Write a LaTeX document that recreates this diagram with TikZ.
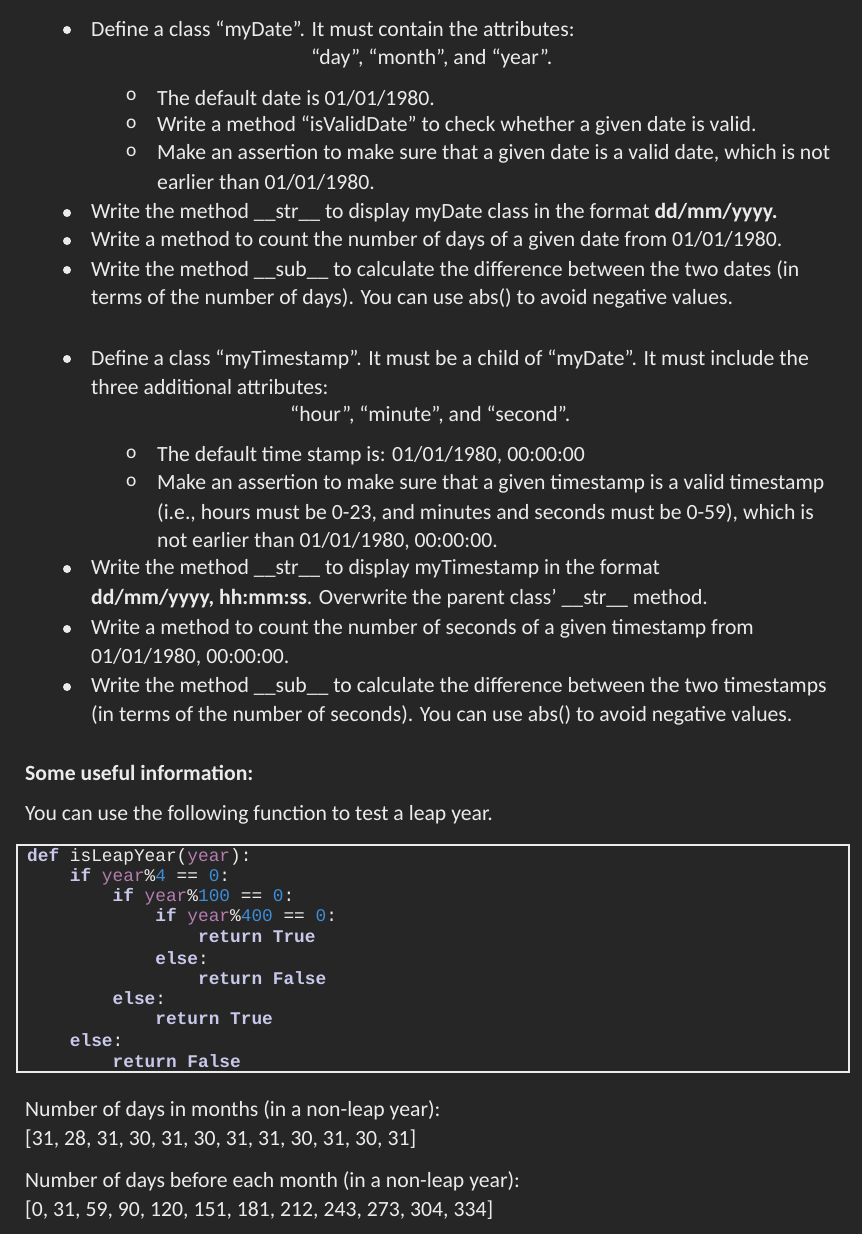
\documentclass[tikz,border=0pt]{standalone}
\usepackage{fontspec}
\setmainfont{Carlito}
\setmonofont{Liberation Mono}
\definecolor{bg}{RGB}{38,38,38}
\definecolor{fg}{RGB}{235,235,235}
\definecolor{kw}{RGB}{200,200,235}
\definecolor{vr}{RGB}{180,125,175}
\definecolor{nm}{RGB}{60,140,215}
\begin{document}
\begin{tikzpicture}[x=1pt,y=-1pt,
  tx/.style={anchor=west,inner sep=0pt,text=fg,font=\fontsize{21.7}{25}\selectfont},
  cd/.style={anchor=west,inner sep=0pt,text=kw,font=\ttfamily\fontsize{17.8}{20}\selectfont},
  dot/.style={circle,fill=fg,inner sep=0pt,minimum size=8pt},
  oo/.style={anchor=west,inner sep=0pt,text=fg,font=\fontsize{19.5}{23}\selectfont}]
\fill[bg] (0,0) rectangle (862,1234);
\useasboundingbox (0,0) rectangle (862,1234);
\newcommand\kw[1]{\textbf{#1}}
\newcommand\vy{\textcolor{vr}{year}}
\newcommand\nn[1]{\textcolor{nm}{#1}}
% bullets
\foreach \y/\n in {30/b1,213/b2,241/b3,270/b4,359/b5,569/b6,629/b7,687/b8}
  \node[dot] (\n) at (67,\y) {};
\foreach \y/\n in {98/o1,126/o2,154/o3,456/o4,484/o5}
  \node[oo] (\n) at (126,\y-2) {o};
\node[tx] (t1) at (91,30) {Define a class “myDate”. It must contain the attributes:};
\node[tx] (t2) at (311,58) {“day”, “month”, and “year”.};
\node[tx] (t3) at (157,98) {The default date is 01/01/1980.};
\node[tx] (t4) at (157,126) {Write a method “isValidDate” to check whether a given date is valid.};
\node[tx] (t5) at (157,154) {Make an assertion to make sure that a given date is a valid date, which is not};
\node[tx] (t6) at (157,182) {earlier than 01/01/1980.};
\node[tx] (t7) at (91,213) {Write the method \_\_str\_\_ to display myDate class in the format \textbf{dd/mm/yyyy.}};
\node[tx] (t8) at (91,241) {Write a method to count the number of days of a given date from 01/01/1980.};
\node[tx] (t9) at (91,270) {Write the method \_\_sub\_\_ to calculate the difference between the two dates (in};
\node[tx] (t10) at (91,298) {terms of the number of days). You can use abs() to avoid negative values.};
\node[tx] (t11) at (91,359) {Define a class “myTimestamp”. It must be a child of “myDate”. It must include the};
\node[tx] (t12) at (91,387) {three additional attributes:};
\node[tx] (t13) at (290,415) {“hour”, “minute”, and “second”.};
\node[tx] (t14) at (157,456) {The default time stamp is: 01/01/1980, 00:00:00};
\node[tx] (t15) at (157,484) {Make an assertion to make sure that a given timestamp is a valid timestamp};
\node[tx] (t16) at (157,513) {(i.e., hours must be 0-23, and minutes and seconds must be 0-59), which is};
\node[tx] (t17) at (157,541) {not earlier than 01/01/1980, 00:00:00.};
\node[tx] (t18) at (91,569) {Write the method \_\_str\_\_ to display myTimestamp in the format};
\node[tx] (t19) at (91,599) {\textbf{dd/mm/yyyy, hh:mm:ss}. Overwrite the parent class’ \_\_str\_\_ method.};
\node[tx] (t20) at (91,629) {Write a method to count the number of seconds of a given timestamp from};
\node[tx] (t21) at (91,657) {01/01/1980, 00:00:00.};
\node[tx] (t22) at (91,687) {Write the method \_\_sub\_\_ to calculate the difference between the two timestamps};
\node[tx] (t23) at (91,715) {(in terms of the number of seconds). You can use abs() to avoid negative values.};
\node[tx] (t24) at (25,773) {\textbf{Some useful information:}};
\node[tx] (t25) at (25,815) {You can use the following function to test a leap year.};
% code box
\draw[fg,line width=1.5pt] (17,845) rectangle (849,1072);
\node[cd] (c1) at (27,857) {\kw{def} \textcolor{fg}{isLeapYear(}\vy\textcolor{fg}{):}};
\node[cd] (c2) at (27,877) {\phantom{xxxx}\kw{if} \vy\textcolor{fg}{\%}\nn{4} \textcolor{fg}{==} \nn{0}\textcolor{fg}{:}};
\node[cd] (c3) at (27,897) {\phantom{xxxxxxxx}\kw{if} \vy\textcolor{fg}{\%}\nn{100} \textcolor{fg}{==} \nn{0}\textcolor{fg}{:}};
\node[cd] (c4) at (27,917) {\phantom{xxxxxxxxxxxx}\kw{if} \vy\textcolor{fg}{\%}\nn{400} \textcolor{fg}{==} \nn{0}\textcolor{fg}{:}};
\node[cd] (c5) at (27,937) {\phantom{xxxxxxxxxxxxxxxx}\kw{return True}};
\node[cd] (c6) at (27,958) {\phantom{xxxxxxxxxxxx}\kw{else}\textcolor{fg}{:}};
\node[cd] (c7) at (27,978) {\phantom{xxxxxxxxxxxxxxxx}\kw{return False}};
\node[cd] (c8) at (27,998) {\phantom{xxxxxxxx}\kw{else}\textcolor{fg}{:}};
\node[cd] (c9) at (27,1019) {\phantom{xxxxxxxxxxxx}\kw{return True}};
\node[cd] (c10) at (27,1040) {\phantom{xxxx}\kw{else}\textcolor{fg}{:}};
\node[cd] (c11) at (27,1061) {\phantom{xxxxxxxx}\kw{return False}};
\node[tx] (t26) at (25,1110) {Number of days in months (in a non-leap year):};
\node[tx] (t27) at (25,1139) {[31, 28, 31, 30, 31, 30, 31, 31, 30, 31, 30, 31]};
\node[tx] (t28) at (25,1181) {Number of days before each month (in a non-leap year):};
\node[tx] (t29) at (25,1210) {[0, 31, 59, 90, 120, 151, 181, 212, 243, 273, 304, 334]};
\end{tikzpicture}
\end{document}
